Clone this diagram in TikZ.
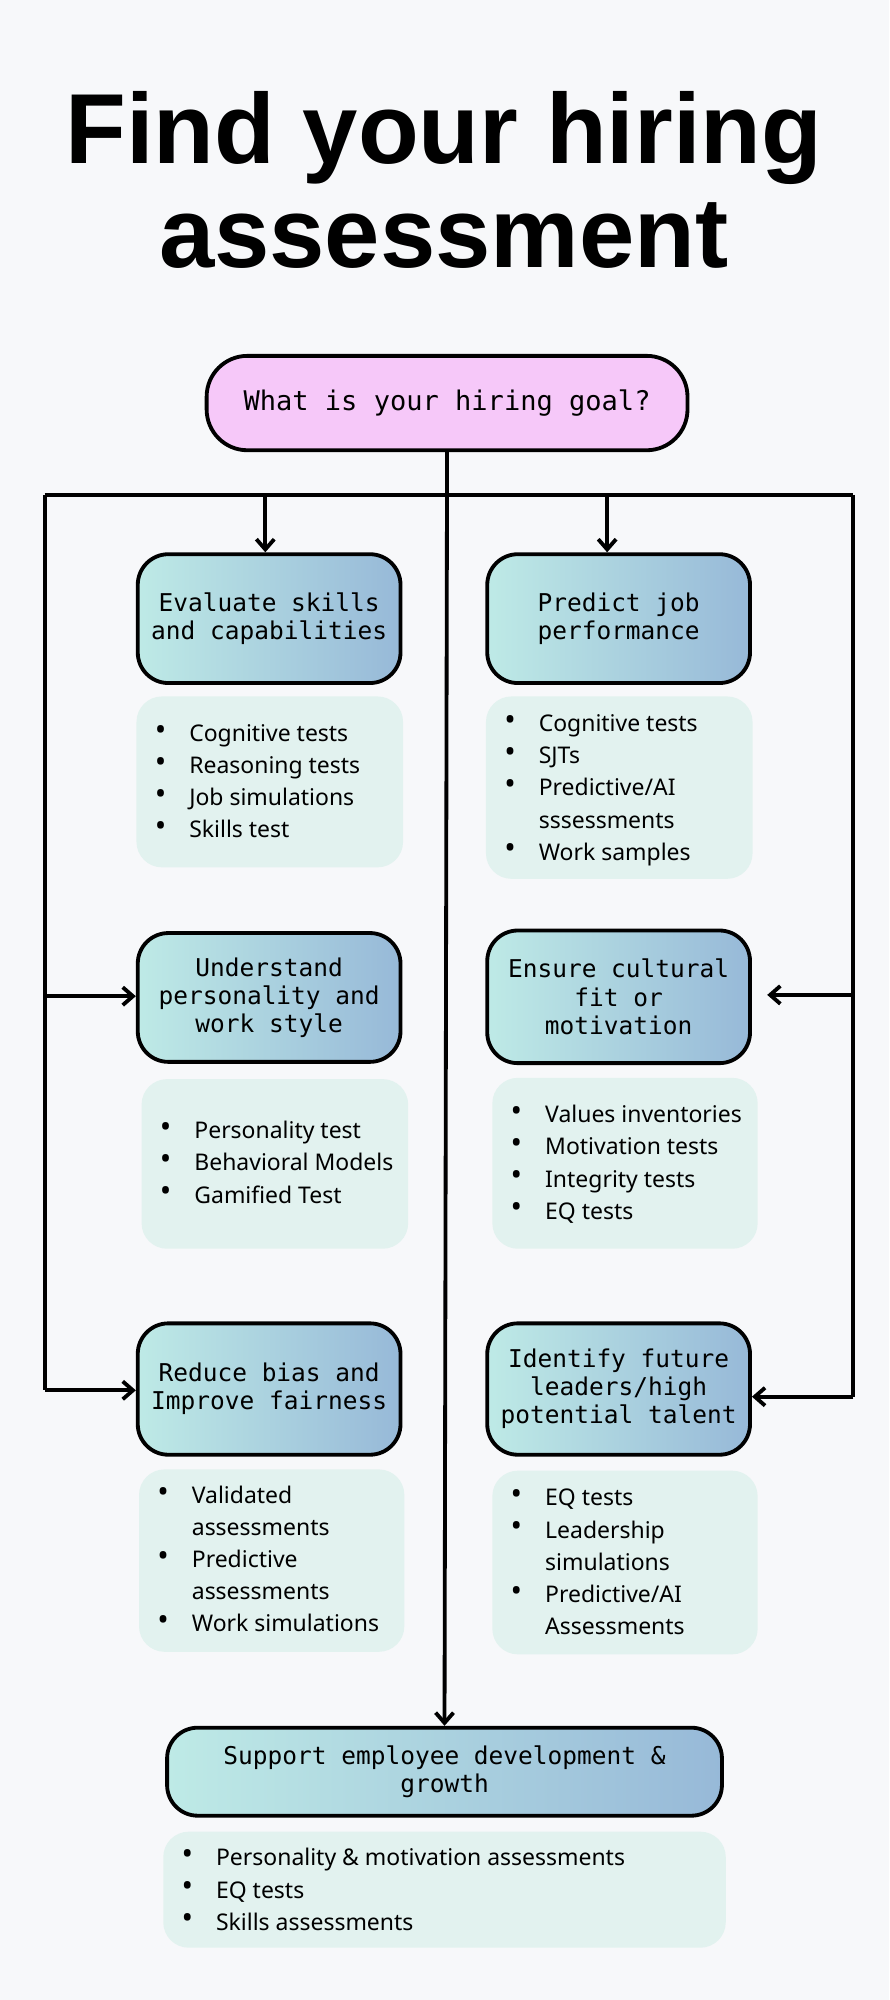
\documentclass[tikz,border=0pt]{standalone}
\usepackage{fontspec}
\setmainfont{Noto Sans}
\newfontfamily\monof{DejaVu Sans Mono}
\newfontfamily\titlef{Liberation Sans}
\usetikzlibrary{arrows.meta}
\definecolor{bg}{HTML}{F7F8FA}
\definecolor{pinkc}{HTML}{F6C8F9}
\definecolor{ca}{HTML}{BEEAE6}
\definecolor{cb}{HTML}{97B9D8}
\definecolor{lite}{HTML}{E2F2EF}
\tikzset{
 q/.style={draw=black,line width=1.5pt,rounded corners=12pt,left color=ca,right color=cb,
   minimum width=103pt,minimum height=50.5pt,align=center,font=\monof\fontsize{9.6}{11}\selectfont,inner sep=2pt},
 lb/.style={fill=lite,rounded corners=10pt,draw=none},
 tx/.style={anchor=west,inner sep=0pt,font=\fontsize{9}{12.6}\selectfont},
 ln/.style={line width=1.5pt},
 ar/.style={line width=1.5pt,-{Straight Barb[length=4pt,width=7pt,line width=1.5pt]}}
}
\newcommand{\blist}[1]{\begin{tabular}{@{}l@{\hspace{9pt}}l@{}}#1\end{tabular}}
\newcommand{\bl}{\raisebox{0.5pt}{\large\textbullet}}
\begin{document}
\begin{tikzpicture}[x=0.5pt,y=-0.5pt]
\fill[bg] (0,0) rectangle (697,1568);
\useasboundingbox (0,0) rectangle (697,1568);
\node[font=\titlef\bfseries\fontsize{39}{41}\selectfont,align=center] (title) at (348,141) {Find your hiring\\assessment};
\node[draw=black,line width=1.5pt,rounded corners=16pt,fill=pinkc,minimum width=188.5pt,minimum height=37pt,font=\monof\fontsize{10.6}{12}\selectfont] (goal) at (350.5,316) {What is your hiring goal?};
% boxes
\node[q] (eval) at (211,485) {Evaluate skills\\and capabilities};
\node[q] (pred) at (485,485) {Predict job\\performance};
\node[q] (und) at (211,782) {Understand\\personality and\\work style};
\node[q,minimum height=52pt] (ens) at (485,781.5) {Ensure cultural\\fit or\\motivation};
\node[q,minimum height=51.5pt] (red) at (211,1089) {Reduce bias and\\Improve fairness};
\node[q,minimum height=51.5pt] (ide) at (485,1089) {Identify future\\leaders/high\\potential talent};
\node[q,minimum width=217.5pt,minimum height=34.5pt] (sup) at (348.5,1389) {Support employee development \&\\growth};
% light boxes
\node[lb,minimum width=104.5pt,minimum height=67pt] (l1) at (211.5,613) {};
\node[lb,minimum width=104.5pt,minimum height=71.5pt] (l2) at (485.5,617.5) {};
\node[lb,minimum width=104.5pt,minimum height=66.5pt] (l3) at (215.5,912.5) {};
\node[lb,minimum width=104pt,minimum height=67pt] (l4) at (490,912) {};
\node[lb,minimum width=104pt,minimum height=71.5pt] (l5) at (213,1223.5) {};
\node[lb,minimum width=104pt,minimum height=72pt] (l6) at (490,1225) {};
\node[lb,minimum width=220.5pt,minimum height=45.5pt] (l7) at (348.5,1481.5) {};
\node[tx] (t1) at (121,614) {\blist{\bl&Cognitive tests\\\bl&Reasoning tests\\\bl&Job simulations\\\bl&Skills test}};
\node[tx] (t2) at (395,619) {\blist{\bl&Cognitive tests\\\bl&SJTs\\\bl&Predictive/AI\\&sssessments\\\bl&Work samples}};
\node[tx] (t3) at (125,913) {\blist{\bl&Personality test\\\bl&Behavioral Models\\\bl&Gamified Test}};
\node[tx] (t4) at (400,913) {\blist{\bl&Values inventories\\\bl&Motivation tests\\\bl&Integrity tests\\\bl&EQ tests}};
\node[tx] (t5) at (123,1224) {\blist{\bl&Validated\\&assessments\\\bl&Predictive\\&assessments\\\bl&Work simulations}};
\node[tx] (t6) at (400,1226) {\blist{\bl&EQ tests\\\bl&Leadership\\&simulations\\\bl&Predictive/AI\\&Assessments}};
\node[tx] (t7) at (142,1483) {\blist{\bl&Personality \& motivation assessments\\\bl&EQ tests\\\bl&Skills assessments}};
% connectors
\coordinate (hl) at (35,388); \coordinate (hr) at (669,388);
\coordinate (d1) at (208,388); \coordinate (d2) at (476,388);
\coordinate (lm) at (35,781); \coordinate (lb) at (35,1090);
\coordinate (rm) at (669,780); \coordinate (rb) at (669,1095);
\draw[ln] (hl) -- (hr);
\draw[ln] (hl) -- (lb); \draw[ln] (hr) -- (rb);
\draw[ar] (d1) -- (eval.north -| d1);
\draw[ar] (d2) -- (pred.north -| d2);
\draw[ar] (lm) -- (und.west |- lm);
\draw[ar] (lb) -- (red.west |- lb);
\draw[ar] (rm) -- ([xshift=6pt]ens.east |- rm);
\draw[ar] (rb) -- (ide.east |- rb);
\draw[ar] (goal.south) -- (sup.north);
\end{tikzpicture}
\end{document}
